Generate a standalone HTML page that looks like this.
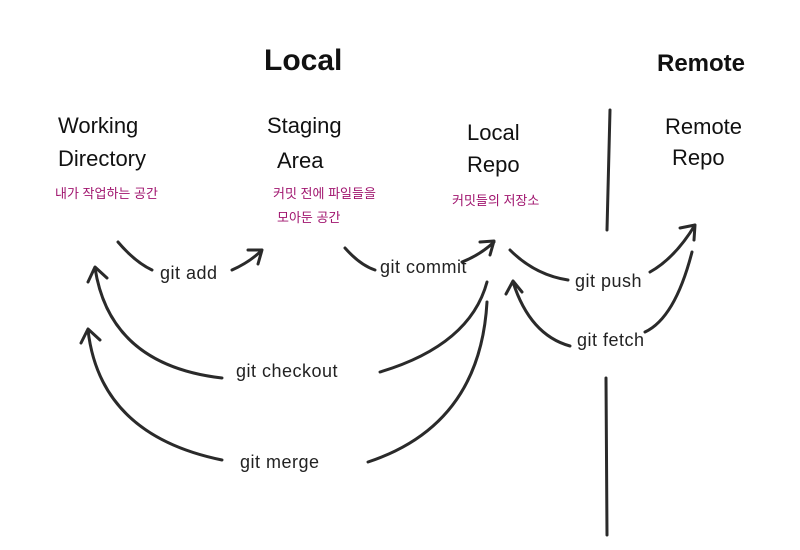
<!DOCTYPE html>
<html><head><meta charset="utf-8"><style>
html,body{margin:0;padding:0;background:#fff;}
svg{display:block}
.t{font-family:"Liberation Sans","Noto Sans CJK KR",sans-serif;fill:#111;}
.k{font-family:"Liberation Sans","Noto Sans CJK KR",sans-serif;fill:#a0146e;font-size:13px;}
.l{font-family:"Liberation Sans",sans-serif;fill:#222;font-size:18px;letter-spacing:0.5px}
path{fill:none;stroke:#2a2a2a;stroke-width:3;stroke-linecap:round;stroke-linejoin:round}
</style></head><body>
<svg width="800" height="550" viewBox="0 0 800 550">
<text class="t" x="264" y="70" font-size="30" font-weight="bold">Local</text>
<text class="t" x="657" y="71" font-size="24" font-weight="bold">Remote</text>

<text class="t" x="58" y="133" font-size="22">Working</text>
<text class="t" x="58" y="166" font-size="22">Directory</text>
<text class="k" x="55" y="198">내가 작업하는 공간</text>

<text class="t" x="267" y="133" font-size="22">Staging</text>
<text class="t" x="277" y="168" font-size="22">Area</text>
<text class="k" x="273" y="198">커밋 전에 파일들을</text>
<text class="k" x="277" y="222">모아둔 공간</text>

<text class="t" x="467" y="140" font-size="22">Local</text>
<text class="t" x="467" y="172" font-size="22">Repo</text>
<text class="k" x="452" y="205">커밋들의 저장소</text>

<text class="t" x="665" y="134" font-size="22">Remote</text>
<text class="t" x="672" y="165" font-size="22">Repo</text>

<path d="M610 110 L607 230"/>
<path d="M606 378 L607 535"/>

<path d="M118 242 Q135 262 152 270"/>
<path d="M232 270 Q250 262 262 250 M248 250 L262 250 L258 264"/>
<text class="l" x="160" y="279">git add</text>
<path d="M345 248 Q360 265 375 270"/>
<path d="M462 262 Q480 255 494 242 M480 242 L494 241 L490 255"/>
<text class="l" x="380" y="273">git commit</text>
<path d="M510 250 Q535 275 568 280"/>
<path d="M650 272 Q675 258 695 225 M680 228 L695 225 L694 240"/>
<text class="l" x="575" y="287">git push</text>
<path d="M692 252 Q675 318 645 332"/>
<path d="M570 346 Q530 335 513 282 M506 294 L513 281 L522 292"/>
<text class="l" x="577" y="346">git fetch</text>
<path d="M380 372 Q470 345 487 282"/>
<path d="M222 378 Q110 365 95 268 M88 282 L95 267 L107 278"/>
<text class="l" x="236" y="377">git checkout</text>
<path d="M368 462 Q480 425 487 302"/>
<path d="M222 460 Q100 435 88 330 M81 343 L88 329 L100 340"/>
<text class="l" x="240" y="468">git merge</text>
</svg>
</body></html>
